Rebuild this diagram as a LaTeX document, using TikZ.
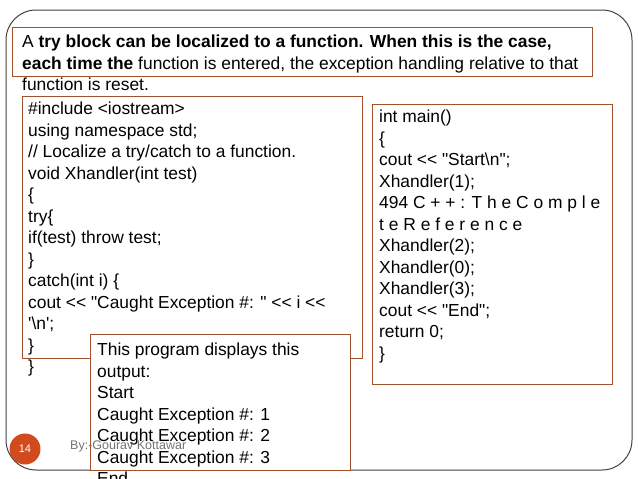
\documentclass[tikz,border=0pt]{standalone}
\usepackage{fontspec}
\setmainfont{Liberation Sans}[Ligatures=TeXOff]
\usetikzlibrary{positioning}
\definecolor{boxline}{HTML}{A0522D}
\definecolor{slidenum}{HTML}{D24B1E}
\tikzset{
codebox/.style={draw=boxline, line width=0.8pt, fill=white},
codetext/.style={anchor=north west, align=left, inner sep=0pt,
  font=\fontsize{17.4}{21.5}\selectfont},
}
\begin{document}
\begin{tikzpicture}[x=1pt, y=-1pt]
\useasboundingbox (0,0) rectangle (638,479);
\clip (0,0) rectangle (638,479);
% slide frame
\draw[rounded corners=30pt, line width=1pt, black!75] (6,10) rectangle (632,470);

% heading
\draw[codebox] (12,27) rectangle (592,76);
\node[codetext] (head) at (22,35) {A \textbf{try block can be localized to a function. When this is the case,}\\
\textbf{each time the} function is entered, the exception handling relative to that\\
function is reset.};

% Xhandler listing
\draw[codebox] (22,96) rectangle (362,358);
\node[codetext] (xh) at (28,102) {\#include <iostream>\\
using namespace std;\\
// Localize a try/catch to a function.\\
void Xhandler(int test)\\
\{\\
try\{\\
if(test) throw test;\\
\}\\
catch(int i) \{\\
cout << "Caught Exception \#: " << i <<\\
'\textbackslash n';\\
\}\\
\}};

% main listing
\draw[codebox] (372,104) rectangle (612,384);
\node[codetext] (main) at (379,110) {int main()\\
\{\\
cout << "Start\textbackslash n";\\
Xhandler(1);\\
494 C + + : T h e C o m p l e\\
t e R e f e r e n c e\\
Xhandler(2);\\
Xhandler(0);\\
Xhandler(3);\\
cout << "End";\\
return 0;\\
\}};

% output box
\draw[codebox] (90,334) rectangle (350,470);
\node[codetext] (out) at (97,343) {This program displays this\\
output:\\
Start\\
Caught Exception \#: 1\\
Caught Exception \#: 2\\
Caught Exception \#: 3\\
End};

% footer
\node[circle, fill=slidenum, minimum size=31pt, inner sep=0pt, text=white,
  font=\fontsize{11}{13}\selectfont] (num) at (25,449) {14};
\node[anchor=west, inner sep=0pt, text=black!55, font=\fontsize{12.5}{14}\selectfont] (author) at (70,446) {By:-Gourav Kottawar};
\end{tikzpicture}
\end{document}
